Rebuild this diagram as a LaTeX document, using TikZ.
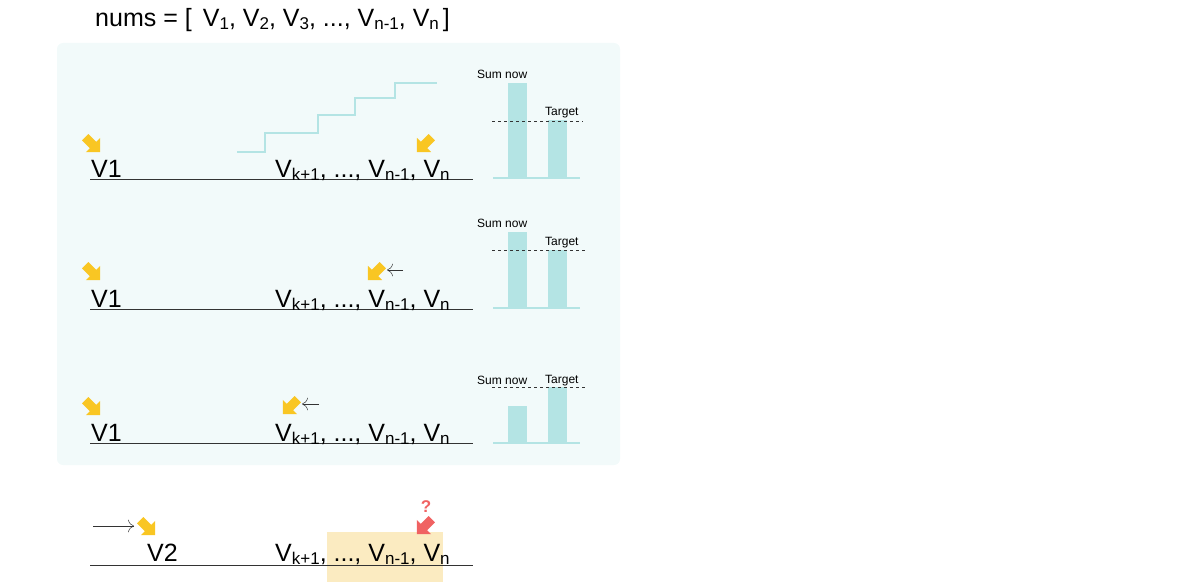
\documentclass[tikz,border=0pt]{standalone}
\usepackage{fontspec}
\setmainfont{Liberation Sans}
\usetikzlibrary{arrows.meta}
\definecolor{panel}{HTML}{F2FAFA}
\definecolor{bar}{HTML}{B4E4E4}
\definecolor{pointer}{HTML}{F9C623}
\definecolor{alert}{HTML}{F06262}
\definecolor{window}{HTML}{FBEBC1}
\newcommand{\vsub}[1]{\raisebox{-0.12em}{\fontsize{17}{18}\selectfont #1}}
\newcommand{\fatptr}[4]{% x, y, angle, colour
  \fill[#4, rotate around={#3:(#1,#2)}] (#1-11,#2-4.5) -- (#1,#2-4.5) -- (#1,#2-10) -- (#1+10,#2) -- (#1,#2+10) -- (#1,#2+4.5) -- (#1-11,#2+4.5) -- cycle;}
\tikzset{
  big/.style={font=\fontsize{25}{28}\selectfont, inner sep=0pt, anchor=base west},
  small/.style={font=\fontsize{12}{13}\selectfont, inner sep=0pt, anchor=base west},
  base/.style={line width=0.8pt, black!80},
  thin arrow/.style={-{To[length=6pt]}, line width=0.5pt, black!80},
}
\begin{document}
\begin{tikzpicture}[x=1pt, y=-1pt]
  \useasboundingbox (0,0) rectangle (1200,586);

  % title
  \node[big] (title) at (95,27) {nums = [\, V\vsub{1}, V\vsub{2}, V\vsub{3}, ..., V\vsub{n-1}, V\vsub{n}\hspace{4pt}]};

  % panel
  \fill[panel, rounded corners=6pt] (57,43) rectangle (620,465);

  % row 1
  \draw[base] (90,179) -- (473,179);
  \node[big] (a1) at (91,177) {V1};
  \node[big] (b1) at (275,177) {V\vsub{k+1}, ..., V\vsub{n-1}, V\vsub{n}};
  \fatptr{93}{145}{-45}{pointer}
  \fatptr{424}{145}{-135}{pointer}
  \draw[bar, line width=1.5pt] (237,152) -- (265,152) |- (318,133) |- (355,115) |- (395,98) |- (437,83);
  \draw[bar, line width=1.2pt] (493,178) -- (580,178);
  \fill[bar] (508,83) rectangle (527,178);
  \fill[bar] (548,120) rectangle (567,178);
  \draw[dashed, black!80] (492,121) -- (583,121);
  \node[small] (s1) at (477,79) {Sum now};
  \node[small] (t1) at (545,115) {Target};

  % row 2
  \draw[base] (90,309) -- (473,309);
  \node[big] (a2) at (91,307) {V1};
  \node[big] (b2) at (275,307) {V\vsub{k+1}, ..., V\vsub{n-1}, V\vsub{n}};
  \fatptr{93}{273}{-45}{pointer}
  \fatptr{375}{273}{-135}{pointer}
  \coordinate (m2a) at (403,270);
  \coordinate (m2b) at (387,270);
  \draw[thin arrow] (m2a) -- (m2b);
  \draw[bar, line width=1.2pt] (493,308) -- (580,308);
  \fill[bar] (508,232) rectangle (527,308);
  \fill[bar] (548,250) rectangle (567,308);
  \draw[dashed, black!80] (492,250) -- (587,250);
  \node[small] (s2) at (477,227) {Sum now};
  \node[small] (t2) at (545,245) {Target};

  % row 3
  \draw[base] (90,443) -- (473,443);
  \node[big] (a3) at (91,441) {V1};
  \node[big] (b3) at (275,441) {V\vsub{k+1}, ..., V\vsub{n-1}, V\vsub{n}};
  \fatptr{93}{408}{-45}{pointer}
  \fatptr{290}{407}{-135}{pointer}
  \coordinate (m3a) at (319,404);
  \coordinate (m3b) at (302,404);
  \draw[thin arrow] (m3a) -- (m3b);
  \draw[bar, line width=1.2pt] (493,443) -- (580,443);
  \fill[bar] (508,406) rectangle (527,443);
  \fill[bar] (548,387) rectangle (567,443);
  \draw[dashed, black!80] (492,387) -- (585,387);
  \node[small] (s3) at (477,384) {Sum now};
  \node[small] (t3) at (545,383) {Target};

  % row 4
  \fill[window] (327,532) rectangle (443,582);
  \draw[base] (90,565) -- (473,565);
  \node[big] (a4) at (147,561) {V2};
  \node[big] (b4) at (275,561) {V\vsub{k+1}, ..., V\vsub{n-1}, V\vsub{n}};
  \coordinate (m4a) at (93,526);
  \coordinate (m4b) at (134,526);
  \draw[thin arrow] (m4a) -- (m4b);
  \fatptr{148}{528}{-45}{pointer}
  \fatptr{424}{527}{-135}{alert}
  \node[font=\fontsize{17}{18}\selectfont\bfseries, text=alert, inner sep=0pt] (q) at (426,507) {?};
\end{tikzpicture}
\end{document}
